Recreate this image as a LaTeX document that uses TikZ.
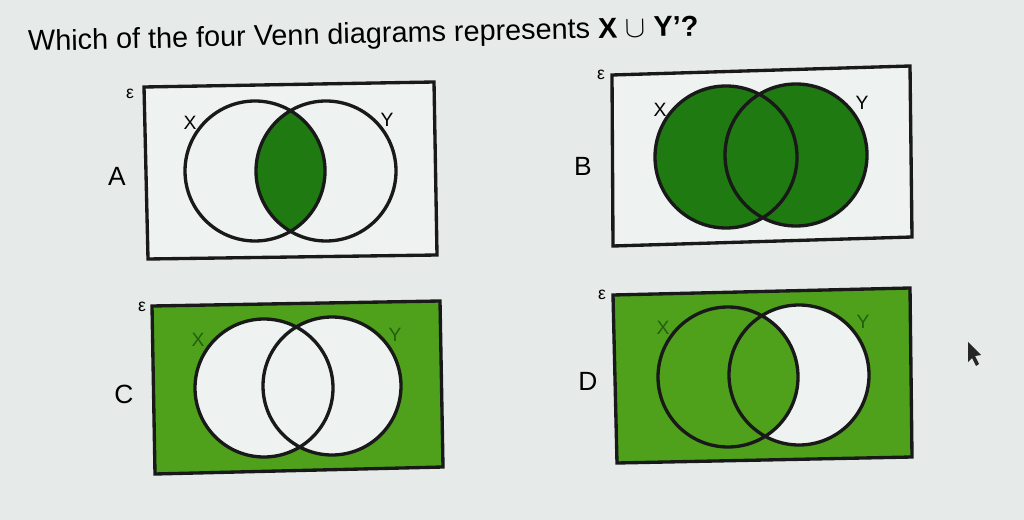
\documentclass[tikz,border=0pt]{standalone}
\usepackage{fontspec}
\setmainfont{Liberation Sans}
\usepackage{tikz}

\definecolor{screen}{HTML}{E6EBEA}
\definecolor{paper}{HTML}{EEF2F1}
\definecolor{darkgreen}{HTML}{1F7A12}
\definecolor{lightgreen}{HTML}{4FA11C}
\definecolor{labelgreen}{HTML}{22600F}

\tikzset{
  outline/.style={draw=black!90, line width=1.9pt},
  setlabel/.style={font=\fontsize{11}{13}\selectfont, inner sep=0pt},
  univlabel/.style={font=\fontsize{10}{12}\selectfont, inner sep=0pt},
  choice/.style={font=\fontsize{15}{18}\selectfont, inner sep=0pt}
}

\begin{document}
\begin{tikzpicture}[x=0.02cm, y=-0.02cm]
            \fill[screen] (0,0) rectangle (1024,520);
            \node[anchor=base west, rotate=1.3, inner sep=0pt, font=\fontsize{16.4}{19}\selectfont] (title) at (28,51)
              {Which of the four Venn diagrams represents \textbf{X} $\cup$ \textbf{Y’?}};
            % A
            \coordinate (xA) at (255,171);
            \coordinate (yA) at (326,171);
            \fill[paper] (144,87) -- (434,82) -- (437,255) -- (148,259) -- cycle;
            \begin{scope}
            \clip (xA) circle (70);
            \fill[darkgreen] (yA) circle (70);
            \end{scope}
            \draw[outline] (144,87) -- (434,82) -- (437,255) -- (148,259) -- cycle;
            \draw[outline] (xA) circle (70) (yA) circle (70);
            \node[univlabel] (epsA) at (130,94) {ε};
            \node[setlabel] (labXA) at (190,123) {X};
            \node[setlabel] (labYA) at (387,120) {Y};
            \node[choice] (optA) at (117,176) {A};
            % B
            \coordinate (xB) at (726,157);
            \coordinate (yB) at (796,155);
            \fill[paper] (612,75) -- (910,66) -- (912,237) -- (613,246) -- cycle;
            \fill[darkgreen] (xB) circle (71) (yB) circle (71);
            \draw[outline] (612,75) -- (910,66) -- (912,237) -- (613,246) -- cycle;
            \draw[outline] (xB) circle (71) (yB) circle (71);
            \node[univlabel] (epsB) at (601,75) {ε};
            \node[setlabel] (labXB) at (660,110) {X};
            \node[setlabel] (labYB) at (862,103) {Y};
            \node[choice] (optB) at (583,166) {B};
            % C
            \coordinate (xC) at (264,388);
            \coordinate (yC) at (332,386);
            \fill[lightgreen] (152,306) -- (440,301) -- (443,467) -- (155,474) -- cycle;
            \fill[paper] (xC) circle (69) (yC) circle (69);
            \draw[outline] (152,306) -- (440,301) -- (443,467) -- (155,474) -- cycle;
            \draw[outline] (xC) circle (69) (yC) circle (69);
            \node[univlabel] (epsC) at (142,307) {ε};
            \node[setlabel, text=labelgreen] (labXC) at (198,340) {X};
            \node[setlabel, text=labelgreen] (labYC) at (395,335) {Y};
            \node[choice] (optC) at (124,394) {C};
            % D
            \coordinate (xD) at (728,377);
            \coordinate (yD) at (799,375);
            \fill[lightgreen] (613,295) -- (910,288) -- (912,457) -- (617,463) -- cycle;
            \fill[paper] (yD) circle (70);
            \fill[lightgreen] (xD) circle (70);
            \draw[outline] (613,295) -- (910,288) -- (912,457) -- (617,463) -- cycle;
            \draw[outline] (xD) circle (70) (yD) circle (70);
            \node[univlabel] (epsD) at (602,295) {ε};
            \node[setlabel, text=labelgreen] (labXD) at (663,328) {X};
            \node[setlabel, text=labelgreen] (labYD) at (863,322) {Y};
            \node[choice] (optD) at (588,381) {D};
            % pointer
            \fill[black!85] (968,342) -- (968,362) -- (972,358) -- (976,366) -- (979,364) -- (975,356) -- (981,355) -- cycle;
\end{tikzpicture}
\end{document}
